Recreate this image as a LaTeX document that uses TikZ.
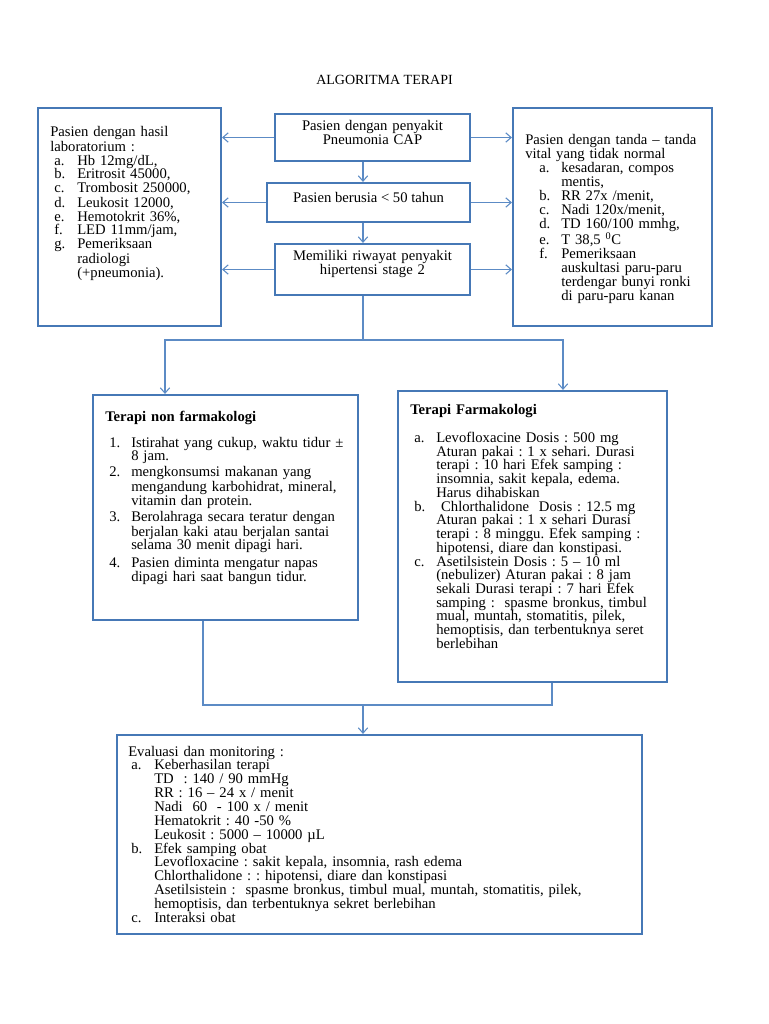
\documentclass[tikz,border=0pt]{standalone}
\usepackage{fontspec}
\setmainfont{Liberation Serif}
\usetikzlibrary{fit,arrows.meta}

\definecolor{boxblue}{RGB}{70,120,182}
\definecolor{lineblue}{RGB}{92,139,197}

\newdimen\px \px=0.75pt
\newlength\lblin
\newlength\lblwd
\newcommand{\fs}[2]{\fontsize{#1}{#2}\selectfont}
\newcommand{\itm}[1]{\hspace*{\lblin}\makebox[\lblwd][l]{#1}}
\newcommand{\cont}{\hspace*{\dimexpr\lblin+\lblwd\relax}}
\newcommand{\lists}[2]{\setlength\lblin{#1}\setlength\lblwd{#2}}
\frenchspacing

\begin{document}
\begin{tikzpicture}[
        x = 0.75pt, y = -0.75pt,
        box/.style = {draw = boxblue, line width = 1.6pt, inner sep = 0pt, font = \fs{11}{10.5}},
        txt/.style = {anchor = base west, inner sep = 0pt, align = left, text width = #1},
        arr/.style = {draw = lineblue, line width = 0.8pt, -{Straight Barb[length = 4pt, width = 7pt]}},
        link/.style = {draw = lineblue, line width = 0.8pt}
    ]
    \useasboundingbox (0,0) rectangle (768,1024);

    \node [font = \fs{10.5}{12}] (title) at (384.5,80) {ALGORITMA TERAPI};

    % top row
    \node [box, fit = {(38,108) (221,326)}] (lab) {};
    \node [box, fit = {(513,108) (712,326)}] (vital) {};
    \node [box, fit = {(275,114) (470,161)}, align = center] (cap) {Pasien dengan penyakit\\Pneumonia CAP};
    \node [box, fit = {(267,183) (470,222)}] (usia) {Pasien berusia < 50 tahun};
    \node [box, fit = {(275,244) (470,295)}, align = center] (hiper) {Memiliki riwayat penyakit\\hipertensi stage 2};

    \node [txt = 170pt, font = {\fs{11}{10.5}\lists{4\px}{23\px}}] (labtxt) at (50,137) {%
        Pasien dengan hasil\\
        laboratorium :\\
        \itm{a.}Hb 12mg/dL,\\
        \itm{b.}Eritrosit 45000,\\
        \itm{c.}Trombosit 250000,\\
        \itm{d.}Leukosit 12000,\\
        \itm{e.}Hemotokrit 36\%,\\
        \itm{f.}LED 11mm/jam,\\
        \itm{g.}Pemeriksaan\\
        \cont radiologi\\
        \cont (+pneumonia).};

    \node [txt = 170pt, font = {\fs{11}{10.5}\lists{14\px}{22\px}}] (vitaltxt) at (525,144) {%
        Pasien dengan tanda -- tanda\\
        vital yang tidak normal\\
        \itm{a.}kesadaran, compos\\
        \cont mentis,\\
        \itm{b.}RR 27x /menit,\\
        \itm{c.}Nadi 120x/menit,\\
        \itm{d.}TD 160/100 mmhg,\\
        \itm{e.}T 38,5 \textsuperscript{0}C\\
        \itm{f.}Pemeriksaan\\
        \cont auskultasi paru-paru\\
        \cont terdengar bunyi ronki\\
        \cont di paru-paru kanan};

    % therapy boxes
    \node [box, fit = {(93,395) (358,620)}] (nonfarm) {};
    \node [box, fit = {(398,391) (667,682)}] (farm) {};

    \node [txt = 200pt, font = {\fs{11}{10}\lists{4\px}{22\px}}] (nonfarmtxt) at (105,421) {%
        \textbf{Terapi non farmakologi}\\[8.5pt]
        \itm{1.}Istirahat yang cukup, waktu tidur ±\\
        \cont 8 jam.\\[2pt]
        \itm{2.}mengkonsumsi makanan yang\\
        \cont mengandung karbohidrat, mineral,\\
        \cont vitamin dan protein.\\[2pt]
        \itm{3.}Berolahraga secara teratur dengan\\
        \cont berjalan kaki atau berjalan santai\\
        \cont selama 30 menit dipagi hari.\\[2pt]
        \itm{4.}Pasien diminta mengatur napas\\
        \cont dipagi hari saat bangun tidur.};

    \node [txt = 200pt, font = {\fs{11}{10.3}\lists{4\px}{22\px}}] (farmtxt) at (410,414) {%
        \textbf{Terapi Farmakologi}\\[11pt]
        \itm{a.}Levofloxacine Dosis : 500 mg\\
        \cont Aturan pakai : 1 x sehari. Durasi\\
        \cont terapi : 10 hari Efek samping :\\
        \cont insomnia, sakit kepala, edema.\\
        \cont Harus dihabiskan\\
        \itm{b.}\ Chlorthalidone\ \ Dosis : 12.5 mg\\
        \cont Aturan pakai : 1 x sehari Durasi\\
        \cont terapi : 8 minggu. Efek samping :\\
        \cont hipotensi, diare dan konstipasi.\\
        \itm{c.}Asetilsistein Dosis : 5 -- 10 ml\\
        \cont (nebulizer) Aturan pakai : 8 jam\\
        \cont sekali Durasi terapi : 7 hari Efek\\
        \cont samping :\ \ spasme bronkus, timbul\\
        \cont mual, muntah, stomatitis, pilek,\\
        \cont hemoptisis, dan terbentuknya seret\\
        \cont berlebihan};

    % evaluation
    \node [box, fit = {(117,735) (642,934)}] (eval) {};

    \node [txt = 380pt, font = {\fs{11}{10.4}\lists{3\px}{23\px}}] (evaltxt) at (128,756) {%
        Evaluasi dan monitoring :\\
        \itm{a.}Keberhasilan terapi\\
        \cont TD\ \ : 140 / 90 mmHg\\
        \cont RR : 16 -- 24 x / menit\\
        \cont Nadi\ \ 60\ \ - 100 x / menit\\
        \cont Hematokrit : 40 -50 \%\\
        \cont Leukosit : 5000 -- 10000 µL\\
        \itm{b.}Efek samping obat\\
        \cont Levofloxacine : sakit kepala, insomnia, rash edema\\
        \cont Chlorthalidone : : hipotensi, diare dan konstipasi\\
        \cont Asetilsistein :\ \ spasme bronkus, timbul mual, muntah, stomatitis, pilek,\\
        \cont hemoptisis, dan terbentuknya sekret berlebihan\\
        \itm{c.}Interaksi obat};

    % connectors
    \coordinate (spine) at (363,340);
    \coordinate (lbr) at (165,340);
    \coordinate (rbr) at (563,340);
    \coordinate (merge) at (363,705);
    \coordinate (nout) at (203,705);
    \coordinate (fout) at (552,705);

    \draw [arr] (cap.west) -- (cap.west -| lab.east);
    \draw [arr] (cap.east) -- (cap.east -| vital.west);
    \draw [arr] (usia.west) -- (usia.west -| lab.east);
    \draw [arr] (usia.east) -- (usia.east -| vital.west);
    \draw [arr] (hiper.west) -- (hiper.west -| lab.east);
    \draw [arr] (hiper.east) -- (hiper.east -| vital.west);

    \draw [arr] (cap.south -| spine) -- (usia.north -| spine);
    \draw [arr] (usia.south -| spine) -- (hiper.north -| spine);
    \draw [link] (hiper.south -| spine) -- (spine);
    \draw [arr] (spine) -| (lbr |- nonfarm.north);
    \draw [arr] (spine) -| (rbr |- farm.north);

    \draw [link] (nonfarm.south -| nout) -- (nout) -- (fout) -- (farm.south -| fout);
    \draw [arr] (merge) -- (eval.north -| merge);
\end{tikzpicture}
\end{document}
